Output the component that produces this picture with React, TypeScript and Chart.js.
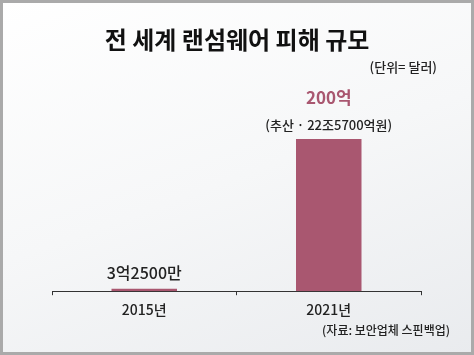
import React, { useEffect, useRef } from "react";
import { Chart, registerables } from "chart.js";

Chart.register(...registerables);

const TITLE = "전 세계 랜섬웨어 피해 규모";
const UNIT = "(단위= 달러)";
const SOURCE = "(자료: 보안업체 스핀백업)";
const categories = ["2015년", "2021년"];
const values = [3.25, 200]; // 억 달러
const valueLabels = ["3억2500만", "200억"];
const subLabels = ["", "(추산 · 22조5700억원)"];

const FONT = "'Noto Sans CJK KR', 'Noto Sans', sans-serif";
const BAR = "#a95770";

export default function App() {
  const ref = useRef<HTMLCanvasElement | null>(null);
  useEffect(() => {
    document.body.style.margin = "0";
    const textPlugin = {
      id: "texts",
      afterDraw(chart: any) {
        const ctx = chart.ctx;
        ctx.save();
        ctx.textBaseline = "middle";
        ctx.textAlign = "center";
        ctx.fillStyle = "#111";
        ctx.font = `bold 24px ${FONT}`;
        ctx.fillText(TITLE, 237, 40);
        ctx.textAlign = "right";
        ctx.fillStyle = "#222";
        ctx.font = `500 13px ${FONT}`;
        ctx.fillText(UNIT, 437, 67);
        ctx.font = `500 12px ${FONT}`;
        ctx.fillText(SOURCE, 450, 330);
        const meta = chart.getDatasetMeta(0);
        meta.data.forEach((bar: any, i: number) => {
          ctx.textAlign = "center";
          if (subLabels[i]) {
            ctx.fillStyle = BAR;
            ctx.font = `bold 17px ${FONT}`;
            ctx.fillText(valueLabels[i], bar.x, bar.y - 41);
            ctx.fillStyle = "#222";
            ctx.font = `500 13px ${FONT}`;
            ctx.fillText(subLabels[i], bar.x, bar.y - 14);
          } else {
            ctx.fillStyle = "#222";
            ctx.font = `500 16px ${FONT}`;
            ctx.fillText(valueLabels[i], bar.x, bar.y - 16);
          }
        });
        ctx.restore();
      },
    };
    const chart = new Chart(ref.current as HTMLCanvasElement, {
      type: "bar",
      data: {
        labels: categories,
        datasets: [
          {
            data: values,
            backgroundColor: BAR,
            categoryPercentage: 1,
            barPercentage: 0.355,
          },
        ],
      },
      options: {
        responsive: false,
        animation: false,
        layout: { padding: { left: 52, right: 53, top: 139, bottom: 31 } },
        plugins: { legend: { display: false }, tooltip: { enabled: false }, title: { display: false } },
        scales: {
          x: {
            offset: true,
            grid: { drawOnChartArea: false, color: "#333", tickLength: 4, offset: true },
            border: { color: "#333", width: 1 },
            ticks: { color: "#222", font: { family: FONT, size: 14, weight: 500 }, padding: 6 },
          },
          y: { display: false, min: 0, max: 200 },
        },
      },
      plugins: [textPlugin],
    });
    return () => chart.destroy();
  }, []);
  return (
    <div
      style={{
        position: "relative",
        width: 474,
        height: 355,
        background: "linear-gradient(160deg, #ffffff 0%, #f6f7f8 50%, #e9ebee 100%)",
        boxShadow: "inset 0 0 0 3px #aaaaaa",
      }}
    >
      <canvas ref={ref} width={474} height={355} style={{ position: "absolute", left: 0, top: 0 }} />
    </div>
  );
}
